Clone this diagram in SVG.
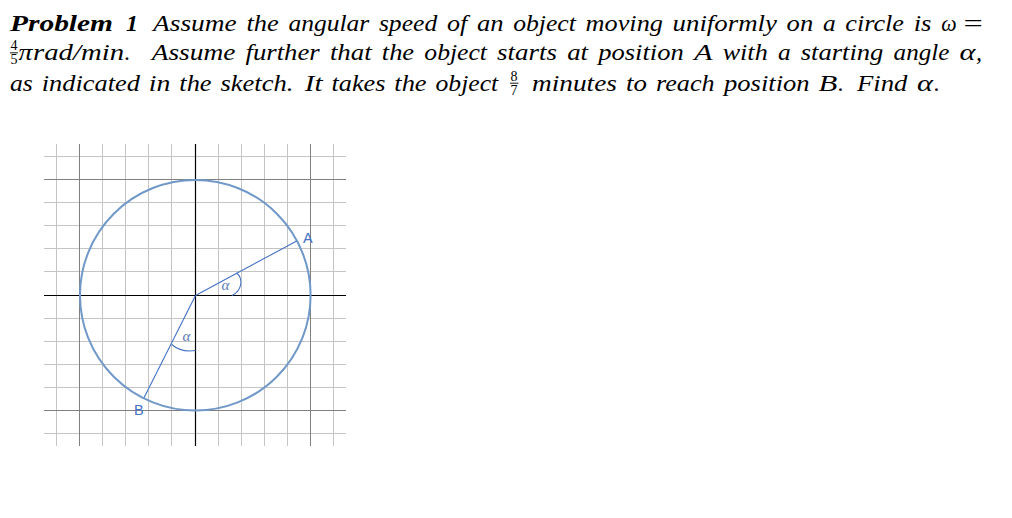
<svg xmlns="http://www.w3.org/2000/svg" width="1012" height="518" viewBox="0 0 1012 518">
<style>
text.t{font-family:"Liberation Serif","DejaVu Serif",serif;font-size:24px;font-style:italic;fill:#000}
text.b{font-weight:bold}
text.up{font-style:normal}
text.sm{font-family:"Liberation Serif","DejaVu Serif",serif;font-size:14px;fill:#000}
.minor{stroke:#c4c4c4;stroke-width:1;fill:none}
.major{stroke:#808080;stroke-width:1;fill:none}
.axis{stroke:#000;stroke-width:1.2;fill:none}
.rad{stroke:#4472c4;stroke-width:1.1;fill:none}
.bar{stroke:#000;stroke-width:0.9}
.lbl{font-family:"Liberation Sans",Arial,sans-serif;font-size:14.5px;fill:#4472c4}
.al{font-family:"Liberation Serif","DejaVu Serif",serif;font-style:italic;font-size:15px;fill:#5a7bb5}
</style>
<rect width="1012" height="518" fill="#fff"/>
<g id="problem-text" lengthAdjust="spacingAndGlyphs">
<text class="t b" x="10" y="30.5" textLength="103" lengthAdjust="spacingAndGlyphs">Problem</text>
<text class="t b" x="126" y="30.5" textLength="12" lengthAdjust="spacingAndGlyphs">1</text>
<text class="t" x="153" y="30.5" textLength="83.7" lengthAdjust="spacingAndGlyphs">Assume</text>
<text class="t" x="246.4" y="30.5" textLength="32.3" lengthAdjust="spacingAndGlyphs">the</text>
<text class="t" x="288.4" y="30.5" textLength="80.8" lengthAdjust="spacingAndGlyphs">angular</text>
<text class="t" x="378.9" y="30.5" textLength="58.3" lengthAdjust="spacingAndGlyphs">speed</text>
<text class="t" x="446.9" y="30.5" textLength="20.3" lengthAdjust="spacingAndGlyphs">of</text>
<text class="t" x="476.9" y="30.5" textLength="26.6" lengthAdjust="spacingAndGlyphs">an</text>
<text class="t" x="513.2" y="30.5" textLength="62.7" lengthAdjust="spacingAndGlyphs">object</text>
<text class="t" x="585.6" y="30.5" textLength="77.3" lengthAdjust="spacingAndGlyphs">moving</text>
<text class="t" x="672.6" y="30.5" textLength="104.3" lengthAdjust="spacingAndGlyphs">uniformly</text>
<text class="t" x="786.6" y="30.5" textLength="26.6" lengthAdjust="spacingAndGlyphs">on</text>
<text class="t" x="822.9" y="30.5" textLength="12.7" lengthAdjust="spacingAndGlyphs">a</text>
<text class="t" x="845.3" y="30.5" textLength="58.7" lengthAdjust="spacingAndGlyphs">circle</text>
<text class="t" x="913.7" y="30.5" textLength="17.8" lengthAdjust="spacingAndGlyphs">is</text>
<text class="t" x="941.2" y="30.5" textLength="15.4" lengthAdjust="spacingAndGlyphs">ω</text>
<text class="t up" x="963.5" y="30.5" textLength="19.3" lengthAdjust="spacingAndGlyphs">=</text>

<text class="sm" x="10.5" y="50.3">4</text>
<line class="bar" x1="10" y1="52.8" x2="18" y2="52.8"/>
<text class="sm" x="10.5" y="64.3">5</text>
<text class="t" x="18.5" y="60.3" textLength="14" lengthAdjust="spacingAndGlyphs">π</text>
<text class="t" x="33" y="60.3" textLength="91" lengthAdjust="spacingAndGlyphs">rad/min</text>
<text class="t" x="124.5" y="60.3">.</text>
<text class="t" x="151.7" y="60.3" textLength="83.7" lengthAdjust="spacingAndGlyphs">Assume</text>
<text class="t" x="245.5" y="60.3" textLength="74.2" lengthAdjust="spacingAndGlyphs">further</text>
<text class="t" x="329.9" y="60.3" textLength="41.8" lengthAdjust="spacingAndGlyphs">that</text>
<text class="t" x="381.8" y="60.3" textLength="32.3" lengthAdjust="spacingAndGlyphs">the</text>
<text class="t" x="424.3" y="60.3" textLength="62.7" lengthAdjust="spacingAndGlyphs">object</text>
<text class="t" x="497.1" y="60.3" textLength="59.9" lengthAdjust="spacingAndGlyphs">starts</text>
<text class="t" x="567.2" y="60.3" textLength="20.9" lengthAdjust="spacingAndGlyphs">at</text>
<text class="t" x="598.2" y="60.3" textLength="85.6" lengthAdjust="spacingAndGlyphs">position</text>
<text class="t" x="694" y="60.3" textLength="18.6" lengthAdjust="spacingAndGlyphs">A</text>
<text class="t" x="722.7" y="60.3" textLength="45" lengthAdjust="spacingAndGlyphs">with</text>
<text class="t" x="777.9" y="60.3" textLength="12.7" lengthAdjust="spacingAndGlyphs">a</text>
<text class="t" x="800.7" y="60.3" textLength="82.7" lengthAdjust="spacingAndGlyphs">starting</text>
<text class="t" x="893.6" y="60.3" textLength="55.8" lengthAdjust="spacingAndGlyphs">angle</text>
<text class="t" x="959.5" y="60.3" textLength="15.9" lengthAdjust="spacingAndGlyphs">α</text>
<text class="t" x="976" y="60.3">,</text>

<text class="t" x="10" y="90.5" textLength="22.8" lengthAdjust="spacingAndGlyphs">as</text>
<text class="t" x="41.7" y="90.5" textLength="98.2" lengthAdjust="spacingAndGlyphs">indicated</text>
<text class="t" x="148.8" y="90.5" textLength="21.6" lengthAdjust="spacingAndGlyphs">in</text>
<text class="t" x="179.3" y="90.5" textLength="32.3" lengthAdjust="spacingAndGlyphs">the</text>
<text class="t" x="220.5" y="90.5" textLength="72.9" lengthAdjust="spacingAndGlyphs">sketch.</text>
<text class="t" x="304.8" y="90.5" textLength="17.8" lengthAdjust="spacingAndGlyphs">It</text>
<text class="t" x="331.5" y="90.5" textLength="53.9" lengthAdjust="spacingAndGlyphs">takes</text>
<text class="t" x="394.3" y="90.5" textLength="32.3" lengthAdjust="spacingAndGlyphs">the</text>
<text class="t" x="435.5" y="90.5" textLength="62.7" lengthAdjust="spacingAndGlyphs">object</text>
<text class="sm" x="510.5" y="80.8">8</text>
<line class="bar" x1="510" y1="83.2" x2="518.5" y2="83.2"/>
<text class="sm" x="510.5" y="94.8">7</text>
<text class="t" x="532" y="90.5" textLength="84.9" lengthAdjust="spacingAndGlyphs">minutes</text>
<text class="t" x="626" y="90.5" textLength="20.9" lengthAdjust="spacingAndGlyphs">to</text>
<text class="t" x="656" y="90.5" textLength="58.6" lengthAdjust="spacingAndGlyphs">reach</text>
<text class="t" x="724" y="90.5" textLength="85.6" lengthAdjust="spacingAndGlyphs">position</text>
<text class="t" x="818.5" y="90.5" textLength="18.8" lengthAdjust="spacingAndGlyphs">B</text>
<text class="t" x="838" y="90.5">.</text>
<text class="t" x="857" y="90.5" textLength="50.4" lengthAdjust="spacingAndGlyphs">Find</text>
<text class="t" x="917" y="90.5" textLength="15.9" lengthAdjust="spacingAndGlyphs">α</text>
<text class="t" x="934" y="90.5">.</text>
</g>
<g id="grid">
<path class="minor" d="M56.5,144V446M102.5,144V446M125.5,144V446M148.5,144V446M171.5,144V446M218.5,144V446M241.5,144V446M264.5,144V446M287.5,144V446M333.5,144V446M44,156.5H346M44,202.5H346M44,225.5H346M44,248.5H346M44,271.5H346M44,318.5H346M44,341.5H346M44,364.5H346M44,387.5H346M44,433.5H346"/>
<path class="major" d="M79.5,144V446M310.5,144V446M44,179.5H346M44,410.5H346"/>
<path class="axis" d="M195.5,144V446M44,295.5H346"/>
</g>
<g id="circle">
<circle cx="195.3" cy="295.2" r="115.3" fill="none" stroke="#7098c8" stroke-width="2"/>
</g>
<g id="connectors">
<line class="rad" x1="195.5" y1="295.5" x2="296.7" y2="241"/>
<line class="rad" x1="195.5" y1="295.5" x2="144" y2="397.7"/>
<path class="rad" d="M236.5,273 C242.5,277.5 243.5,289.5 232,295.5"/>
<path class="rad" d="M171.7,344.5 C177.5,349.5 186,352 195.5,350.5"/>
</g>
<g id="label-A"><text class="lbl" x="303" y="242.5">A</text></g>
<g id="label-B"><text class="lbl" x="134" y="415">B</text></g>
<g id="alpha-A"><text class="al" x="221.5" y="290">α</text></g>
<g id="alpha-B"><text class="al" x="182.5" y="341">α</text></g>
</svg>
